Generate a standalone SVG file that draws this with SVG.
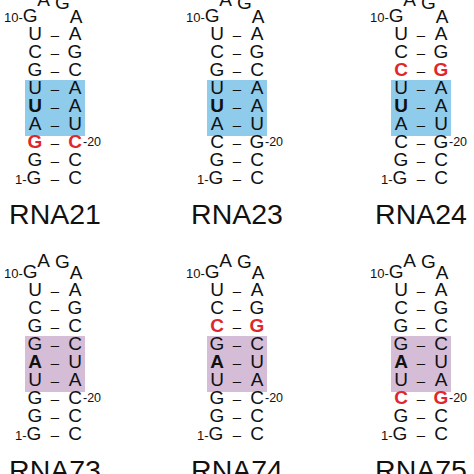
<svg xmlns="http://www.w3.org/2000/svg" width="474" height="474" viewBox="0 0 474 474">
<style>
.n{font-family:"Liberation Sans",Arial,sans-serif;font-size:19px;text-anchor:middle;fill:#111}
.d{font-family:"Liberation Sans",Arial,sans-serif;font-size:15px;text-anchor:middle;fill:#111}
.t{font-family:"Liberation Sans",Arial,sans-serif;font-size:19px;fill:#111}
.sm{font-size:13px}
.s{font-family:"Liberation Sans",Arial,sans-serif;font-size:12.5px;fill:#111}
.b{font-weight:bold}
.r{font-weight:bold;fill:#e0252d}
.lab{font-family:"Liberation Sans",Arial,sans-serif;font-size:28.5px;text-anchor:middle;fill:#111}
.blue{fill:#8fcbea}
.pur{fill:#d5bdd8}
</style>
<rect width="474" height="474" fill="#fff"/>

<g id="rna21">
<rect class="blue" x="25" y="80" width="60" height="56"/>
<text class="t" x="4" y="22"><tspan class="sm">10-</tspan>G</text>
<text class="n" x="43.5" y="6">A</text><text class="n" x="62.5" y="9">G</text><text class="n" x="76" y="23">A</text>
<text class="n" x="35" y="40">U</text><text class="d" x="55" y="40">–</text><text class="n" x="75" y="40">A</text>
<text class="n" x="35" y="58">C</text><text class="d" x="55" y="58">–</text><text class="n" x="75" y="58">G</text>
<text class="n" x="35" y="76">G</text><text class="d" x="55" y="76">–</text><text class="n" x="75" y="76">C</text>
<text class="n" x="35" y="94">U</text><text class="d" x="55" y="94">–</text><text class="n" x="75" y="94">A</text>
<text class="n b" x="35" y="112">U</text><text class="d" x="55" y="112">–</text><text class="n" x="75" y="112">A</text>
<text class="n" x="35" y="130">A</text><text class="d" x="55" y="130">–</text><text class="n" x="75" y="130">U</text>
<text class="n r" x="35" y="148">G</text><text class="d" x="55" y="148">–</text><text class="n r" x="75" y="148">C</text><text class="s" x="83" y="146">-20</text>
<text class="n" x="35" y="166">G</text><text class="d" x="55" y="166">–</text><text class="n" x="75" y="166">C</text>
<text class="t" x="15" y="184"><tspan class="sm">1-</tspan>G</text><text class="d" x="55" y="184">–</text><text class="n" x="75" y="184">C</text>
<text class="lab" x="55" y="224">RNA21</text>
</g>

<g id="rna23" transform="translate(182,0)">
<rect class="blue" x="25" y="80" width="60" height="56"/>
<text class="t" x="4" y="22"><tspan class="sm">10-</tspan>G</text>
<text class="n" x="43.5" y="6">A</text><text class="n" x="62.5" y="9">G</text><text class="n" x="76" y="23">A</text>
<text class="n" x="35" y="40">U</text><text class="d" x="55" y="40">–</text><text class="n" x="75" y="40">A</text>
<text class="n" x="35" y="58">C</text><text class="d" x="55" y="58">–</text><text class="n" x="75" y="58">G</text>
<text class="n" x="35" y="76">G</text><text class="d" x="55" y="76">–</text><text class="n" x="75" y="76">C</text>
<text class="n" x="35" y="94">U</text><text class="d" x="55" y="94">–</text><text class="n" x="75" y="94">A</text>
<text class="n b" x="35" y="112">U</text><text class="d" x="55" y="112">–</text><text class="n" x="75" y="112">A</text>
<text class="n" x="35" y="130">A</text><text class="d" x="55" y="130">–</text><text class="n" x="75" y="130">U</text>
<text class="n" x="35" y="148">C</text><text class="d" x="55" y="148">–</text><text class="n" x="75" y="148">G</text><text class="s" x="83" y="146">-20</text>
<text class="n" x="35" y="166">G</text><text class="d" x="55" y="166">–</text><text class="n" x="75" y="166">C</text>
<text class="t" x="15" y="184"><tspan class="sm">1-</tspan>G</text><text class="d" x="55" y="184">–</text><text class="n" x="75" y="184">C</text>
<text class="lab" x="55" y="224">RNA23</text>
</g>

<g id="rna24" transform="translate(366,0)">
<rect class="blue" x="25" y="80" width="60" height="56"/>
<text class="t" x="4" y="22"><tspan class="sm">10-</tspan>G</text>
<text class="n" x="43.5" y="6">A</text><text class="n" x="62.5" y="9">G</text><text class="n" x="76" y="23">A</text>
<text class="n" x="35" y="40">U</text><text class="d" x="55" y="40">–</text><text class="n" x="75" y="40">A</text>
<text class="n" x="35" y="58">C</text><text class="d" x="55" y="58">–</text><text class="n" x="75" y="58">G</text>
<text class="n r" x="35" y="76">C</text><text class="d" x="55" y="76">–</text><text class="n r" x="75" y="76">G</text>
<text class="n" x="35" y="94">U</text><text class="d" x="55" y="94">–</text><text class="n" x="75" y="94">A</text>
<text class="n b" x="35" y="112">U</text><text class="d" x="55" y="112">–</text><text class="n" x="75" y="112">A</text>
<text class="n" x="35" y="130">A</text><text class="d" x="55" y="130">–</text><text class="n" x="75" y="130">U</text>
<text class="n" x="35" y="148">C</text><text class="d" x="55" y="148">–</text><text class="n" x="75" y="148">G</text><text class="s" x="83" y="146">-20</text>
<text class="n" x="35" y="166">G</text><text class="d" x="55" y="166">–</text><text class="n" x="75" y="166">C</text>
<text class="t" x="15" y="184"><tspan class="sm">1-</tspan>G</text><text class="d" x="55" y="184">–</text><text class="n" x="75" y="184">C</text>
<text class="lab" x="55" y="224">RNA24</text>
</g>

<g id="rna73" transform="translate(0,256)">
<rect class="pur" x="25" y="80" width="60" height="56"/>
<text class="t" x="4" y="22"><tspan class="sm">10-</tspan>G</text>
<text class="n" x="43.5" y="11">A</text><text class="n" x="62.5" y="12">G</text><text class="n" x="76" y="23">A</text>
<text class="n" x="35" y="40">U</text><text class="d" x="55" y="40">–</text><text class="n" x="75" y="40">A</text>
<text class="n" x="35" y="58">C</text><text class="d" x="55" y="58">–</text><text class="n" x="75" y="58">G</text>
<text class="n" x="35" y="76">G</text><text class="d" x="55" y="76">–</text><text class="n" x="75" y="76">C</text>
<text class="n" x="35" y="94">G</text><text class="d" x="55" y="94">–</text><text class="n" x="75" y="94">C</text>
<text class="n b" x="35" y="112">A</text><text class="d" x="55" y="112">–</text><text class="n" x="75" y="112">U</text>
<text class="n" x="35" y="130">U</text><text class="d" x="55" y="130">–</text><text class="n" x="75" y="130">A</text>
<text class="n" x="35" y="148">G</text><text class="d" x="55" y="148">–</text><text class="n" x="75" y="148">C</text><text class="s" x="83" y="146">-20</text>
<text class="n" x="35" y="166">G</text><text class="d" x="55" y="166">–</text><text class="n" x="75" y="166">C</text>
<text class="t" x="15" y="184"><tspan class="sm">1-</tspan>G</text><text class="d" x="55" y="184">–</text><text class="n" x="75" y="184">C</text>
<text class="lab" x="55" y="224">RNA73</text>
</g>

<g id="rna74" transform="translate(182,256)">
<rect class="pur" x="25" y="80" width="60" height="56"/>
<text class="t" x="4" y="22"><tspan class="sm">10-</tspan>G</text>
<text class="n" x="43.5" y="11">A</text><text class="n" x="62.5" y="12">G</text><text class="n" x="76" y="23">A</text>
<text class="n" x="35" y="40">U</text><text class="d" x="55" y="40">–</text><text class="n" x="75" y="40">A</text>
<text class="n" x="35" y="58">C</text><text class="d" x="55" y="58">–</text><text class="n" x="75" y="58">G</text>
<text class="n r" x="35" y="76">C</text><text class="d" x="55" y="76">–</text><text class="n r" x="75" y="76">G</text>
<text class="n" x="35" y="94">G</text><text class="d" x="55" y="94">–</text><text class="n" x="75" y="94">C</text>
<text class="n b" x="35" y="112">A</text><text class="d" x="55" y="112">–</text><text class="n" x="75" y="112">U</text>
<text class="n" x="35" y="130">U</text><text class="d" x="55" y="130">–</text><text class="n" x="75" y="130">A</text>
<text class="n" x="35" y="148">G</text><text class="d" x="55" y="148">–</text><text class="n" x="75" y="148">C</text><text class="s" x="83" y="146">-20</text>
<text class="n" x="35" y="166">G</text><text class="d" x="55" y="166">–</text><text class="n" x="75" y="166">C</text>
<text class="t" x="15" y="184"><tspan class="sm">1-</tspan>G</text><text class="d" x="55" y="184">–</text><text class="n" x="75" y="184">C</text>
<text class="lab" x="55" y="224">RNA74</text>
</g>

<g id="rna75" transform="translate(366,256)">
<rect class="pur" x="25" y="80" width="60" height="56"/>
<text class="t" x="4" y="22"><tspan class="sm">10-</tspan>G</text>
<text class="n" x="43.5" y="11">A</text><text class="n" x="62.5" y="12">G</text><text class="n" x="76" y="23">A</text>
<text class="n" x="35" y="40">U</text><text class="d" x="55" y="40">–</text><text class="n" x="75" y="40">A</text>
<text class="n" x="35" y="58">C</text><text class="d" x="55" y="58">–</text><text class="n" x="75" y="58">G</text>
<text class="n" x="35" y="76">G</text><text class="d" x="55" y="76">–</text><text class="n" x="75" y="76">C</text>
<text class="n" x="35" y="94">G</text><text class="d" x="55" y="94">–</text><text class="n" x="75" y="94">C</text>
<text class="n b" x="35" y="112">A</text><text class="d" x="55" y="112">–</text><text class="n" x="75" y="112">U</text>
<text class="n" x="35" y="130">U</text><text class="d" x="55" y="130">–</text><text class="n" x="75" y="130">A</text>
<text class="n r" x="35" y="148">C</text><text class="d" x="55" y="148">–</text><text class="n r" x="75" y="148">G</text><text class="s" x="83" y="146">-20</text>
<text class="n" x="35" y="166">G</text><text class="d" x="55" y="166">–</text><text class="n" x="75" y="166">C</text>
<text class="t" x="15" y="184"><tspan class="sm">1-</tspan>G</text><text class="d" x="55" y="184">–</text><text class="n" x="75" y="184">C</text>
<text class="lab" x="55" y="224">RNA75</text>
</g>
</svg>
